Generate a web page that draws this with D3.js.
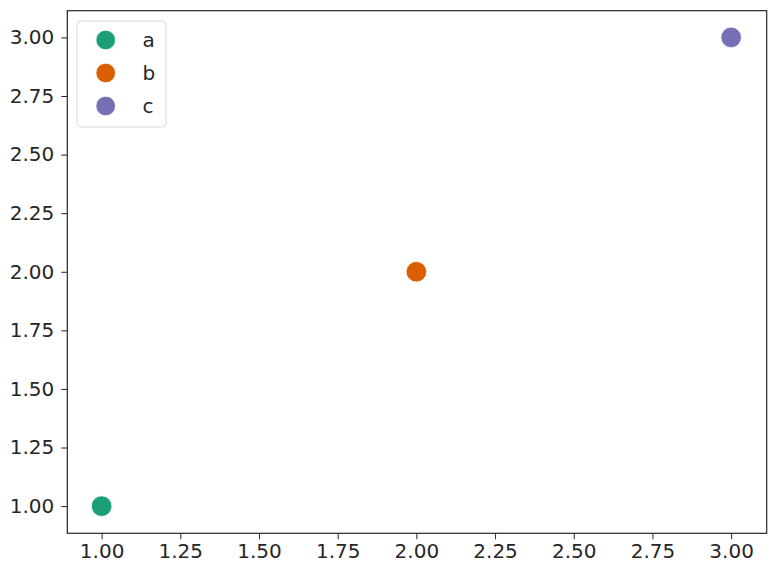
<!DOCTYPE html>
<html lang="en">
<head>
<meta charset="utf-8">
<title>Scatter</title>
<style>
	body { margin: 0; background: #fff; }
	svg text { font-family: "DejaVu Sans", sans-serif; fill: #262626; }
</style>
</head>
<body>
<div id="my_dataviz"></div>
<script src="https://d3js.org/d3.v7.min.js"></script>
<script>
	// data
	var names = ["a", "b", "c"];
	var xVals = [1, 2, 3];
	var yVals = [1, 2, 3];
	var colors = ["#1b9e77", "#d95f02", "#7570b3"];
	var xTicks = [1.00, 1.25, 1.50, 1.75, 2.00, 2.25, 2.50, 2.75, 3.00];
	var yTicks = [1.00, 1.25, 1.50, 1.75, 2.00, 2.25, 2.50, 2.75, 3.00];

	var W = 775, H = 573;
	var box = { left: 67.3, right: 766.7, top: 10.7, bottom: 533.3 };
	var fontSize = 20;

	var svg = d3.select("#my_dataviz")
		.append("svg")
		.attr("width", W)
		.attr("height", H);

	var x = d3.scaleLinear()
		.domain([0.891, 3.113])
		.range([box.left, box.right]);

	var y = d3.scaleLinear()
		.domain([0.884, 3.114])
		.range([box.bottom, box.top]);

	// X axis
	var xAxis = svg.append("g")
		.attr("transform", "translate(0," + box.bottom + ")")
		.call(d3.axisBottom(x).tickValues(xTicks).tickFormat(d3.format(".2f")).tickSize(6).tickPadding(5));

	// Y axis
	var yAxis = svg.append("g")
		.attr("transform", "translate(" + box.left + ",0)")
		.call(d3.axisLeft(y).tickValues(yTicks).tickFormat(d3.format(".2f")).tickSize(6).tickPadding(7));

	[xAxis, yAxis].forEach(function (g) {
		g.select(".domain").remove();
		g.selectAll(".tick line").attr("stroke", "#262626").attr("stroke-width", 1);
		g.selectAll(".tick text")
			.attr("font-family", "DejaVu Sans")
			.attr("font-size", fontSize)
			.attr("fill", "#262626");
	});

	// frame
	svg.append("rect")
		.attr("x", box.left)
		.attr("y", box.top)
		.attr("width", box.right - box.left)
		.attr("height", box.bottom - box.top)
		.attr("fill", "none")
		.attr("stroke", "#262626")
		.attr("stroke-width", 1.2);

	// points
	svg.append("g")
		.selectAll("circle")
		.data(names)
		.enter()
		.append("circle")
		.attr("cx", function (d, i) { return x(xVals[i]); })
		.attr("cy", function (d, i) { return y(yVals[i]); })
		.attr("r", 10.3)
		.attr("fill", function (d, i) { return colors[i]; })
		.attr("stroke", "#fff")
		.attr("stroke-width", 0.8);

	// legend
	var legend = svg.append("g").attr("transform", "translate(77,21)");
	legend.append("rect")
		.attr("width", 89)
		.attr("height", 106)
		.attr("rx", 4)
		.attr("fill", "#fff")
		.attr("fill-opacity", 0.8)
		.attr("stroke", "#d9d9d9")
		.attr("stroke-width", 1);

	var items = legend.selectAll(".item")
		.data(names)
		.enter()
		.append("g")
		.attr("class", "item")
		.attr("transform", function (d, i) { return "translate(0," + (19 + i * 33) + ")"; });

	items.append("circle")
		.attr("cx", 28.7)
		.attr("cy", 0)
		.attr("r", 9.8)
		.attr("fill", function (d, i) { return colors[i]; })
		.attr("stroke", "#fff")
		.attr("stroke-width", 0.8);

	items.append("text")
		.attr("x", 65.5)
		.attr("y", 0)
		.attr("dy", "0.35em")
		.attr("font-size", fontSize)
		.text(function (d) { return d; });
</script>
</body>
</html>
